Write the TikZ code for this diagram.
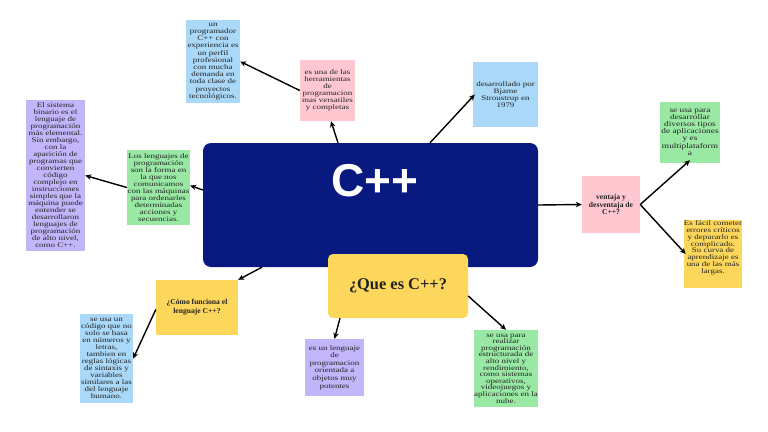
\documentclass[tikz,border=0pt]{standalone}
\usepackage{fontspec}
\setmainfont{Liberation Serif}
\newfontfamily\cppsans{Liberation Sans}
\newfontfamily\sq[FakeStretch=1.28]{Liberation Serif}
\usetikzlibrary{arrows.meta}
\definecolor{lblue}{HTML}{A9D8F8}
\definecolor{lpink}{HTML}{FFC8D0}
\definecolor{lpurple}{HTML}{C3B5FA}
\definecolor{lgreen}{HTML}{99E9A5}
\definecolor{lyellow}{HTML}{FDD75B}
\definecolor{navy}{HTML}{081A80}
\definecolor{txt}{HTML}{222222}
\tikzset{
  card/.style={rectangle, inner sep=0pt, align=center, text=txt, font=\sq\fontsize{7}{7}\selectfont},
  arr/.style={-{Stealth[length=6pt,width=5.5pt]}, line width=1.4pt, black},
}
\begin{document}
\begin{tikzpicture}[x=1pt,y=-1pt]
\useasboundingbox (0,0) rectangle (768,431);
\fill[white] (0,0) rectangle (768,431);

\node[card, fill=navy, rounded corners=8pt, minimum width=335pt, minimum height=124pt] (c) at (370.5,205) {};
\node[text=white, font=\cppsans\bfseries\fontsize{46}{46}\selectfont, inner sep=0pt] (ctitle) at (375,181) {C++};

\node[card, fill=lyellow, rounded corners=5pt, minimum width=140pt, minimum height=64pt, font=\bfseries\fontsize{16.4}{18}\selectfont] (q) at (398,286) {¿Que es C++?};

\node[card, fill=lblue, minimum width=54pt, minimum height=83pt, font=\sq\fontsize{7}{7.2}\selectfont] (n1) at (213,61.5) {un\\programador\\C++ con\\experiencia es\\un perfil\\profesional\\con mucha\\demanda en\\toda clase de\\proyectos\\tecnológicos.};

\node[card, fill=lpink, minimum width=55pt, minimum height=61pt] (n2) at (327.5,90.5) {es una de las\\herramientas\\de\\programacion\\mas versatiles\\y completas};

\node[card, fill=lblue, minimum width=65pt, minimum height=65pt, font=\sq\fontsize{7}{7.2}\selectfont] (n3) at (505.5,94.5) {desarrollado por\\Bjarne\\Stroustrup en\\1979};

\node[card, fill=lpurple, minimum width=59pt, minimum height=151pt] (n4) at (55.5,175.5) {El sistema\\binario es el\\lenguaje de\\programación\\más elemental.\\Sin embargo,\\con la\\aparición de\\programas que\\convierten\\código\\complejo en\\instrucciones\\simples que la\\máquina puede\\entender se\\desarrollaron\\lenguajes de\\programación\\de alto nivel,\\como C++.};

\node[card, fill=lgreen, minimum width=63pt, minimum height=75pt] (n5) at (158.5,187.5) {Los lenguajes de\\programación\\son la forma en\\la que nos\\comunicamos\\con las máquinas\\para ordenarles\\determinadas\\acciones y\\secuencias.};

\node[card, fill=lpink, minimum width=58pt, minimum height=57pt, font=\bfseries\fontsize{7.6}{6.8}\selectfont] (v) at (611,204.5) {ventaja y\\desventaja de\\C++?};

\node[card, fill=lgreen, minimum width=60pt, minimum height=61pt, font=\sq\fontsize{7.3}{7.2}\selectfont] (gr) at (690,132) {se usa para\\desarrollar\\diversos tipos\\de aplicaciones\\y es\\multiplataform\\a};

\node[card, fill=lyellow, minimum width=58pt, minimum height=68pt, font=\sq\fontsize{7}{6.8}\selectfont] (yr) at (713,254) {Es fácil cometer\\errores críticos\\y depurarlo es\\complicado.\\Su curva de\\aprendizaje es\\una de las más\\largas.\\[7pt]};

\node[card, fill=lyellow, minimum width=82pt, minimum height=55pt, font=\bfseries\fontsize{7.6}{9}\selectfont] (cf) at (197,307.5) {¿Cómo funciona el\\lenguaje C++?};

\node[card, fill=lblue, minimum width=53pt, minimum height=89pt] (bl) at (106.5,358.5) {se usa un\\código que no\\solo se basa\\en números y\\letras,\\tambien en\\reglas lógicas\\de sintaxis y\\variables\\similares a las\\del lenguaje\\humano.};

\node[card, fill=lpurple, minimum width=59pt, minimum height=57pt, font=\sq\fontsize{7}{7.6}\selectfont] (pb) at (334.5,367.5) {es un lenguaje\\de\\programacion\\orientada a\\objetos muy\\potentes};

\node[card, fill=lgreen, minimum width=64pt, minimum height=77pt, font=\sq\fontsize{7}{6.6}\selectfont] (gb) at (506,368.5) {se usa para\\realizar\\programación\\estructurada de\\alto nivel y\\rendimiento,\\como sistemas\\operativos,\\videojuegos y\\aplicaciones en la\\nube.};

\draw[arr] ([xshift=-32.5pt]c.north) -- ([xshift=3.5pt]n2.south);
\draw[arr] (n2.west) -- (n1.east);
\draw[arr] ([xshift=59.5pt]c.north) -- ([xshift=2pt]n3.west);
\draw[arr] (n5.west) -- (n4.east);
\draw[arr] ([yshift=15pt]c.west) -- ([yshift=2pt]n5.east);
\draw[arr] (c.east) -- (v.west);
\draw[arr] (v.east) -- ([yshift=2.5pt]gr.south);
\draw[arr] (v.east) -- ([xshift=2pt]yr.west);
\draw[arr] ([xshift=-108.5pt]c.south) -- (cf.north east);
\draw[arr] ([yshift=-2pt]cf.west) -- (bl.east);
\draw[arr] ([xshift=-58pt]q.south) -- (pb.north);
\draw[arr] ([yshift=-10pt]q.east) -- (gb.north);
\end{tikzpicture}
\end{document}
